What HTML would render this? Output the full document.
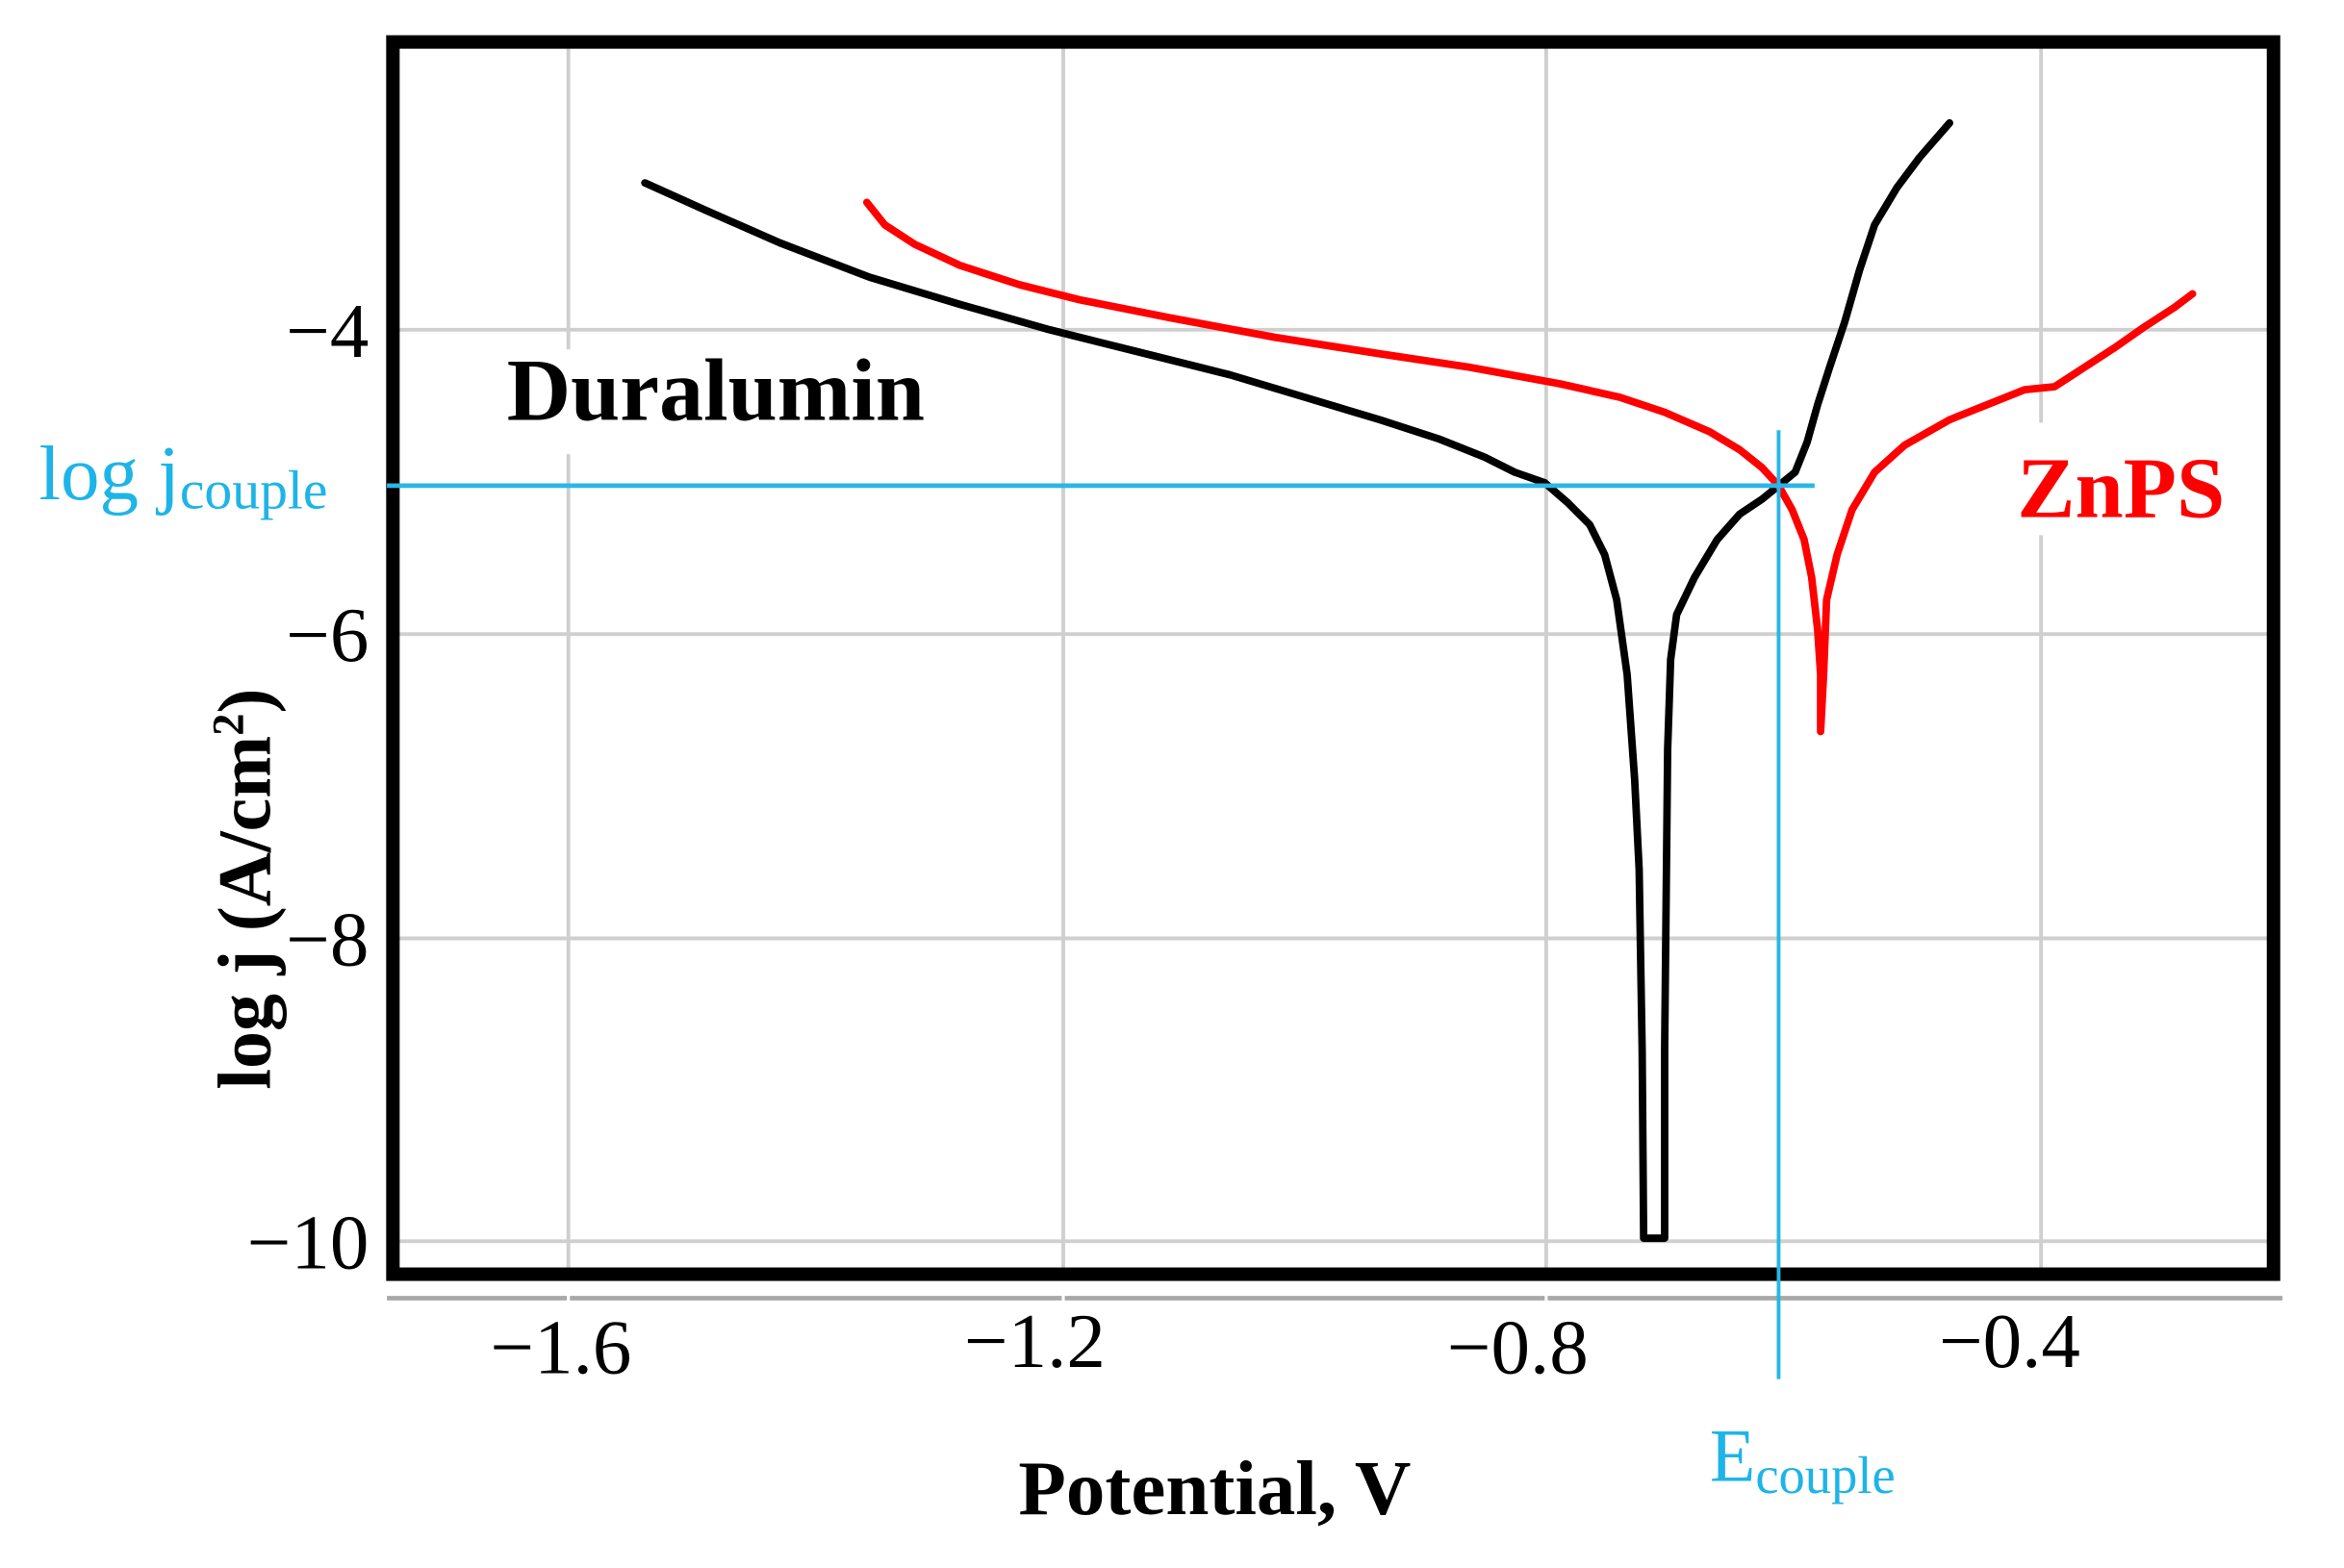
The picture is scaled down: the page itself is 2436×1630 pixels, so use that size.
<!DOCTYPE html>
<html><head><meta charset="utf-8"><style>html,body{margin:0;padding:0;background:#fff}svg{display:block}</style></head>
<body>
<svg width="2436" height="1630" viewBox="0 0 1563 1046" preserveAspectRatio="none" xmlns="http://www.w3.org/2000/svg">
<rect width="1563" height="1046" fill="#fff"/>
<g stroke="#cfcfcf" stroke-width="2.5">
<line x1="379" y1="30" x2="379" y2="848"/>
<line x1="709" y1="30" x2="709" y2="848"/>
<line x1="1031" y1="30" x2="1031" y2="848"/>
<line x1="1361" y1="30" x2="1361" y2="848"/>
<line x1="265" y1="220" x2="1514" y2="220"/>
<line x1="265" y1="423" x2="1514" y2="423"/>
<line x1="265" y1="626" x2="1514" y2="626"/>
<line x1="265" y1="828" x2="1514" y2="828"/>
</g>
<rect x="262" y="233" width="370" height="70" fill="#fff"/>
<rect x="1340" y="282" width="160" height="75" fill="#fff"/>
<rect x="262" y="28" width="1254" height="822" fill="none" stroke="#000" stroke-width="9"/>
<line x1="258" y1="866" x2="1522" y2="866" stroke="#a8a8a8" stroke-width="3"/>
<g stroke="#fff" stroke-width="2"><line x1="379" y1="863" x2="379" y2="869"/><line x1="709" y1="863" x2="709" y2="869"/><line x1="1031" y1="863" x2="1031" y2="869"/></g>
<g fill="none" stroke-width="5" stroke-linejoin="round" stroke-linecap="round">
<polyline stroke="#000" points="430,122 470,140 520,162 580,185 640,203 700,220 760,235 820,250 870,265 920,280 960,293 990,305 1010,315 1030,322 1045,335 1060,350 1070,370 1078,400 1085,450 1090,520 1093,580 1095,700 1096,826 1110,826 1110,700 1112,500 1114,440 1118,410 1130,385 1145,360 1160,343 1175,333 1186,324 1197,315 1205,295 1212,270 1220,245 1230,215 1240,180 1250,150 1265,125 1280,105 1300,82"/>
<polyline stroke="#ff0000" points="578,135 590,150 610,163 640,177 680,190 720,200 780,212 850,225 920,236 980,245 1040,256 1080,265 1110,275 1140,288 1160,300 1175,312 1186,324 1195,340 1203,360 1208,385 1212,420 1214,450 1214,488 1216,450 1218,400 1225,370 1235,340 1250,315 1270,297 1300,280 1330,268 1350,260 1370,258 1390,245 1410,232 1430,218 1450,205 1462,196"/>
</g>
<g stroke="#29b6e8" stroke-width="3">
<line x1="258" y1="324" x2="1210" y2="324"/>
<line x1="1186" y1="287" x2="1186" y2="920" stroke-width="2.5"/>
</g>
<g font-family="'Liberation Serif',serif" font-size="52" fill="#000" text-anchor="end">
<text x="246" y="238">−4</text>
<text x="246" y="441">−6</text>
<text x="246" y="644">−8</text>
<text x="246" y="846">−10</text>
</g>
<g font-family="'Liberation Serif',serif" font-size="52" fill="#000" text-anchor="middle">
<text x="374" y="916">−1.6</text>
<text x="690" y="912">−1.2</text>
<text x="1012" y="916">−0.8</text>
<text x="1340" y="912">−0.4</text>
</g>
<text x="810" y="1010" font-family="'Liberation Serif',serif" font-size="52" font-weight="bold" text-anchor="middle">Potential, V</text>
<text transform="translate(180,593) rotate(-90)" font-family="'Liberation Serif',serif" font-size="50" font-weight="bold" text-anchor="middle">log j (A/cm<tspan font-size="30" dy="-18">2</tspan><tspan dy="18">)</tspan></text>
<text x="338" y="280" font-family="'Liberation Serif',serif" font-size="59" font-weight="bold">Duralumin</text>
<text x="1345" y="345" font-family="'Liberation Serif',serif" font-size="58" font-weight="bold" fill="#ff0000">ZnPS</text>
<text x="26" y="333" font-family="'Liberation Serif',serif" font-size="52" fill="#1eb4e8">log j<tspan font-size="37" dy="6">couple</tspan></text>
<text x="1140" y="988" font-family="'Liberation Serif',serif" font-size="50" fill="#1eb4e8">E<tspan font-size="35" dy="8">couple</tspan></text>
</svg>
</body></html>
